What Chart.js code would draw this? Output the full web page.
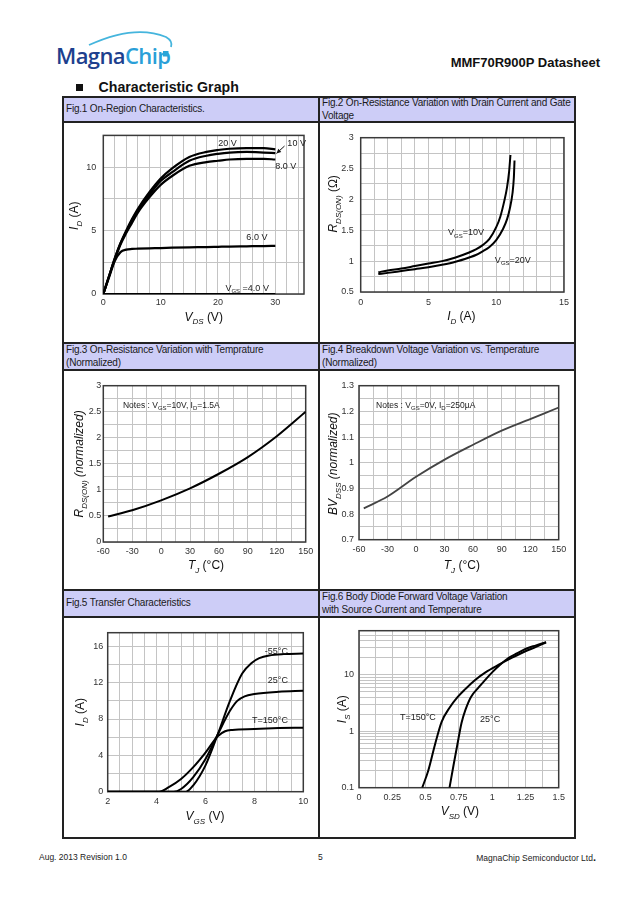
<!DOCTYPE html>
<html>
<head>
<meta charset="utf-8">
<script src="https://cdn.jsdelivr.net/npm/chart.js@4.4.0/dist/chart.umd.min.js"></script>
<style>
  body { margin: 0; background: #fff; font-family: "Liberation Sans", Arial, sans-serif; color: #111; }
  #page { position: relative; width: 638px; height: 902px; overflow: hidden; }
  .abs { position: absolute; }
  .ln { position: absolute; background: #222; }
  .hd { position: absolute; background: #cdcdf7; font-size: 10px; letter-spacing: -0.2px; line-height: 12.5px; display: flex; align-items: center; padding-left: 2px; box-sizing: border-box; color: #1a1a1a; white-space: nowrap; }
  canvas { position: absolute; }
  .foot { position: absolute; top: 851px; font-size: 8.5px; line-height: 12px; color: #222; }
</style>
</head>
<body>
<div id="page">
  <!-- page header -->
  <div class="abs" style="left:56px;top:44px;font:600 22px/22px 'Open Sans';letter-spacing:-0.6px;"><span style="color:#1d3f8e">Magna</span><span style="color:#2a9fd8">Chip</span></div>
  <svg class="abs" style="left:0;top:0" width="200" height="70">
    <path d="M89 45 Q135 24 166 37 Q173 41 171 47" fill="none" stroke="#45b5dd" stroke-width="1.8"/>
    <rect x="163" y="51" width="5.5" height="5.5" fill="#2aa6d8"/>
  </svg>
  <div class="abs" style="right:38px;top:55px;font:bold 13px/15px 'Liberation Sans';">MMF70R900P Datasheet</div>
  <div class="abs" style="left:76px;top:84px;width:7px;height:7px;background:#111"></div>
  <div class="abs" style="left:98.5px;top:79px;font:bold 14.2px/17px 'Liberation Sans';">Characteristic Graph</div>

  <!-- table frame -->
  <div class="ln" style="left:62px;top:96px;width:514px;height:2px"></div>
  <div class="ln" style="left:62px;top:837px;width:514px;height:2px"></div>
  <div class="ln" style="left:62px;top:96px;width:2px;height:743px"></div>
  <div class="ln" style="left:574px;top:96px;width:2px;height:743px"></div>
  <div class="ln" style="left:318px;top:96px;width:2px;height:743px"></div>
  <div class="ln" style="left:62px;top:342px;width:514px;height:2px"></div>
  <div class="ln" style="left:62px;top:589px;width:514px;height:2px"></div>

  <div class="hd" style="left:64px;top:98px;width:254px;height:23px">Fig.1 On-Region Characteristics.</div>
  <div class="hd" style="left:320px;top:98px;width:254px;height:23px">Fig.2 On-Resistance Variation with Drain Current and Gate<br>Voltage</div>
  <div class="hd" style="left:64px;top:344px;width:254px;height:25px">Fig.3 On-Resistance Variation with Temprature<br>(Normalized)</div>
  <div class="hd" style="left:320px;top:344px;width:254px;height:25px">Fig.4 Breakdown Voltage Variation vs. Temperature<br>(Normalized)</div>
  <div class="hd" style="left:64px;top:591px;width:254px;height:25px">Fig.5 Transfer Characteristics</div>
  <div class="hd" style="left:320px;top:591px;width:254px;height:25px">Fig.6 Body Diode Forward Voltage Variation<br>with Source Current and Temperature</div>
  <div class="ln" style="left:62px;top:121px;width:514px;height:2px"></div>
  <div class="ln" style="left:62px;top:369px;width:514px;height:2px"></div>
  <div class="ln" style="left:62px;top:616px;width:514px;height:2px"></div>

  <canvas id="c1" width="254" height="219" style="left:64px;top:123px"></canvas>
  <canvas id="c2" width="254" height="219" style="left:320px;top:123px"></canvas>
  <canvas id="c3" width="254" height="218" style="left:64px;top:371px"></canvas>
  <canvas id="c4" width="254" height="218" style="left:320px;top:371px"></canvas>
  <canvas id="c5" width="254" height="219" style="left:64px;top:618px"></canvas>
  <canvas id="c6" width="254" height="219" style="left:320px;top:618px"></canvas>

  <div class="foot" style="left:39px">Aug. 2013 Revision 1.0</div>
  <div class="foot" style="left:318px">5</div>
  <div class="foot" style="right:42px">MagnaChip Semiconductor Ltd<span style="font-size:11px;font-weight:bold">.</span></div>
</div>

<script>
// ---- data ----
// Fig.1 On-region characteristics: VDS (V) vs ID (A) per VGS
const fig1Vds = [0, 1, 2, 3, 4, 5, 6, 8, 10, 12, 15, 18, 20, 22, 25, 28, 30];
const fig1Vgs20 = [0, 1.4, 2.8, 4.0, 5.0, 5.9, 6.7, 8.0, 9.1, 9.9, 10.8, 11.2, 11.35, 11.45, 11.5, 11.5, 11.4];
const fig1Vgs10 = [0, 1.4, 2.8, 4.0, 4.9, 5.8, 6.6, 7.8, 8.9, 9.6, 10.5, 10.9, 11.05, 11.15, 11.2, 11.15, 11.1];
const fig1Vgs8 = [0, 1.4, 2.7, 3.9, 4.8, 5.6, 6.4, 7.6, 8.6, 9.3, 10.1, 10.4, 10.5, 10.6, 10.65, 10.65, 10.6];
const fig1Vgs6 = [0, 1.3, 2.6, 3.3, 3.5, 3.55, 3.57, 3.6, 3.62, 3.65, 3.68, 3.7, 3.72, 3.74, 3.76, 3.78, 3.8];
const fig1Vgs4 = [0, 0, 0, 0, 0, 0, 0, 0, 0, 0, 0, 0, 0, 0, 0, 0, 0];
const fig1XLabels = [0, 10, 20, 30];
const fig1YLabels = [0, 5, 10];

// Fig.2 RDS(on) vs ID
const fig2IdA = [1.3, 2, 3, 4, 5, 6, 7, 8, 8.5, 9, 9.5, 10, 10.3, 10.6, 10.8, 10.95, 11.05];
const fig2R10 = [0.82, 0.85, 0.88, 0.92, 0.96, 1.0, 1.06, 1.14, 1.19, 1.26, 1.36, 1.55, 1.72, 1.98, 2.2, 2.45, 2.72];
const fig2IdB = [1.3, 2, 3, 4, 5, 6, 7, 8, 8.5, 9, 9.5, 10, 10.5, 10.8, 11.0, 11.2, 11.3, 11.35];
const fig2R20 = [0.79, 0.81, 0.84, 0.87, 0.90, 0.94, 0.99, 1.06, 1.10, 1.16, 1.23, 1.34, 1.52, 1.68, 1.85, 2.1, 2.35, 2.63];
const fig2XLabels = [0, 5, 10, 15];
const fig2YLabels = [0.5, 1, 1.5, 2, 2.5, 3];

// Fig.3 / Fig.4 vs junction temperature
const tempC = [-55, -30, 0, 30, 60, 90, 120, 150];
const fig3Rnorm = [0.49, 0.61, 0.8, 1.03, 1.31, 1.63, 2.03, 2.5];
const fig4BVnorm = [0.822, 0.868, 0.945, 1.012, 1.07, 1.125, 1.17, 1.215];
const tempLabels = [-60, -30, 0, 30, 60, 90, 120, 150];
const fig3YLabels = [0, 0.5, 1, 1.5, 2, 2.5, 3];
const fig4YLabels = [0.7, 0.8, 0.9, 1, 1.1, 1.2, 1.3];

// Fig.5 transfer characteristics
const fig5VgsM55 = [2, 5.2, 5.5, 6.0, 6.5, 7.0, 7.5, 7.9, 8.2, 8.6, 9.2, 10];
const fig5IdM55 = [0, 0, 0.7, 2.9, 6.3, 10.0, 13.0, 14.2, 14.7, 15.0, 15.15, 15.2];
const fig5Vgs25 = [2, 4.7, 5.0, 5.5, 6.0, 6.5, 7.0, 7.3, 7.6, 8.0, 9.0, 10];
const fig5Id25 = [0, 0, 0.3, 1.6, 3.6, 6.3, 8.9, 10.0, 10.5, 10.75, 11.0, 11.1];
const fig5Vgs150 = [2, 4.1, 4.5, 5.0, 5.5, 6.0, 6.5, 6.8, 7.1, 8.0, 9.0, 10];
const fig5Id150 = [0, 0, 0.5, 1.4, 2.7, 4.3, 6.1, 6.65, 6.8, 6.9, 7.0, 7.05];
const fig5XLabels = [2, 4, 6, 8, 10];
const fig5YLabels = [0, 4, 8, 12, 16];

// Fig.6 body diode
const fig6Vsd150 = [0.475, 0.52, 0.57, 0.62, 0.68, 0.74, 0.8, 0.87, 0.95, 1.05, 1.15, 1.25, 1.33, 1.405];
const fig6Is150 = [0.1, 0.2, 0.57, 1.45, 2.6, 4.0, 5.6, 8, 11, 15, 20, 26, 31, 37.5];
const fig6Vsd25 = [0.68, 0.71, 0.74, 0.77, 0.8, 0.84, 0.9, 0.95, 1.0, 1.06, 1.12, 1.19, 1.25, 1.33, 1.405];
const fig6Is25 = [0.1, 0.25, 0.6, 1.4, 2.4, 4, 6, 8.2, 11, 15, 19.5, 24, 28.5, 33, 37.5];
const fig6XLabels = [0, 0.25, 0.5, 0.75, 1, 1.25, 1.5];
const fig6YLabels = [0.1, 1, 10];

// ---- helpers ----
const FONT = '"Liberation Sans", Arial, sans-serif';
Chart.defaults.font.family = FONT;

function pts(xs, ys) { return xs.map((x, i) => ({ x: x, y: ys[i] })); }
function steps(a, b, s) { const out = []; for (let v = a; v <= b + 1e-9; v += s) out.push(+v.toFixed(4)); return out; }
function logGrid(lo, hi) {
  const out = [];
  for (let d = 0.1; d < hi; d *= 10) for (let k = 1; k < 10; k++) { const v = +(k * d).toPrecision(3); if (v >= lo && v <= hi) out.push(v); }
  return out;
}

// rich text: segments as [text, flags]; flags 'i' italic, 's' subscript
function drawRich(ctx, segs, x, y, size, align) {
  const fontOf = s => (s[1].includes('i') ? 'italic ' : '') + (s[1].includes('s') ? Math.round(size * 0.68) : size) + 'px ' + FONT;
  let w = 0;
  segs.forEach(s => { ctx.font = fontOf(s); w += ctx.measureText(s[0]).width; });
  let cx = align === 'center' ? x - w / 2 : align === 'right' ? x - w : x;
  ctx.textAlign = 'left';
  ctx.textBaseline = 'alphabetic';
  segs.forEach(s => {
    ctx.font = fontOf(s);
    ctx.fillText(s[0], cx, y + size * 0.36 + (s[1].includes('s') ? size * 0.28 : 0));
    cx += ctx.measureText(s[0]).width;
  });
}

const decor = {
  id: 'decor',
  beforeDatasetsDraw(chart) {
    const a = chart.chartArea, ctx = chart.ctx;
    ctx.save();
    ctx.strokeStyle = '#3a3a3a';
    ctx.lineWidth = 1.5;
    ctx.strokeRect(a.left, a.top, a.right - a.left, a.bottom - a.top);
    ctx.restore();
  },
  afterDraw(chart, args, o) {
    const a = chart.chartArea, ctx = chart.ctx, xs = chart.scales.x, ys = chart.scales.y;
    ctx.save();
    ctx.fillStyle = '#111';
    drawRich(ctx, o.xTitle[0], (a.left + a.right) / 2 + o.xTitle[1], a.bottom + o.xTitle[2], 12, 'center');
    ctx.save();
    ctx.translate(a.left + o.yTitle[1], (a.top + a.bottom) / 2 + o.yTitle[2]);
    ctx.rotate(-Math.PI / 2);
    drawRich(ctx, o.yTitle[0], 0, 0, 12, 'center');
    ctx.restore();
    ctx.fillStyle = '#222';
    (o.notes || []).forEach(n => drawRich(ctx, n.segs, xs.getPixelForValue(n.x), ys.getPixelForValue(n.y), n.size || 9, n.align || 'left'));
    (o.arrows || []).forEach(ar => {
      const x1 = xs.getPixelForValue(ar[0]), y1 = ys.getPixelForValue(ar[1]);
      const x2 = xs.getPixelForValue(ar[2]), y2 = ys.getPixelForValue(ar[3]);
      const ang = Math.atan2(y2 - y1, x2 - x1);
      ctx.strokeStyle = '#111'; ctx.lineWidth = 1;
      ctx.beginPath(); ctx.moveTo(x1, y1); ctx.lineTo(x2, y2); ctx.stroke();
      ctx.fillStyle = '#111';
      ctx.beginPath();
      ctx.moveTo(x2, y2);
      ctx.lineTo(x2 - 5 * Math.cos(ang - 0.45), y2 - 5 * Math.sin(ang - 0.45));
      ctx.lineTo(x2 - 5 * Math.cos(ang + 0.45), y2 - 5 * Math.sin(ang + 0.45));
      ctx.closePath(); ctx.fill();
    });
    ctx.restore();
  }
};

function axis(type, min, max, grid, labels, pad, fit, isX, extra) {
  return Object.assign({
    type: type, min: min, max: max,
    afterBuildTicks: s => { s.ticks = grid.map(v => ({ value: v })); },
    afterFit: s => { if (isX) s.height = fit; else s.width = fit; },
    ticks: {
      autoSkip: false, maxRotation: 0, minRotation: 0, padding: pad, color: '#333', font: { size: 9 },
      callback: v => { const l = labels.find(l => Math.abs(l - v) < 1e-6); return l === undefined ? '' : String(l); }
    },
    grid: { color: '#c4c4c4', lineWidth: 1, drawTicks: false },
    border: { display: false }
  }, extra || {});
}

function line(data, color, width) {
  return { data: data, borderColor: color || '#000', borderWidth: width || 2, pointRadius: 0, showLine: true, fill: false, cubicInterpolationMode: 'monotone' };
}

// area = [left, right, top, bottom] of the plot inside its canvas
function makeChart(id, area, datasets, xAxis, yAxis, deco) {
  const cv = document.getElementById(id);
  return new Chart(cv, {
    type: 'scatter',
    data: { datasets: datasets },
    options: {
      responsive: false, animation: false, devicePixelRatio: 1, events: [],
      layout: { padding: { left: 0, top: area[2], right: cv.width - area[1], bottom: 0 } },
      scales: { x: xAxis(cv.height - area[3]), y: yAxis(area[0]) },
      plugins: { legend: { display: false }, tooltip: { enabled: false }, decor: deco }
    },
    plugins: [decor]
  });
}

const V = (sub, rest) => [['V', 'i'], [sub, 'is'], [rest, '']];

// Fig.1
makeChart('c1', [39.3, 240, 11, 171], [
  line(pts(fig1Vds, fig1Vgs20), '#000', 2.2),
  line(pts(fig1Vds, fig1Vgs10), '#000', 2.2),
  line(pts(fig1Vds, fig1Vgs8), '#000', 2.2),
  line(pts(fig1Vds, fig1Vgs6), '#000', 2.2),
  line(pts(fig1Vds, fig1Vgs4), '#000', 2.2)
],
  h => axis('linear', 0, 35, steps(0, 34, 2), fig1XLabels, 3, h, true),
  w => axis('linear', 0, 12.5, steps(0, 12.5, 2.5), fig1YLabels, 7, w, false),
  {
    xTitle: [V('DS', ' (V)'), 0, 22.7],
    yTitle: [[['I', 'i'], ['D', 'is'], [' (A)', '']], -29.3, 1],
    notes: [
      { x: 20.05, y: 11.95, segs: [['20 V', '']] },
      { x: 32.1, y: 11.94, segs: [['10 V', '']] },
      { x: 30.0, y: 10.13, segs: [['8.0 V', '']] },
      { x: 24.95, y: 4.55, segs: [['6.0 V', '']] },
      { x: 21.3, y: 0.5, segs: [['V', ''], ['GS', 's'], [' =4.0 V', '']] }
    ],
    arrows: [[31.6, 11.66, 30.2, 11.08]]
  });

// Fig.2
makeChart('c2', [40.7, 244, 14.7, 169], [
  line(pts(fig2IdA, fig2R10)),
  line(pts(fig2IdB, fig2R20))
],
  h => axis('linear', 0, 15, steps(0, 15, 1), fig2XLabels, 5, h, true),
  w => axis('linear', 0.5, 3, steps(0.5, 3, 0.25), fig2YLabels, 7, w, false),
  {
    xTitle: [[['I', 'i'], ['D', 'is'], [' (A)', '']], -1, 24],
    yTitle: [[['R', 'i'], ['DS(ON)', 'is'], [' (Ω)', '']], -27.7, -11],
    notes: [
      { x: 6.44, y: 1.47, segs: [['V', ''], ['GS', 's'], ['=10V', '']] },
      { x: 9.9, y: 1.03, segs: [['V', ''], ['GS', 's'], ['=20V', '']] }
    ]
  });

// Fig.3
makeChart('c3', [39.3, 241.7, 14.7, 171], [
  line(pts(tempC, fig3Rnorm))
],
  h => axis('linear', -60, 150, steps(-60, 150, 15), tempLabels, 4, h, true),
  w => axis('linear', 0, 3, steps(0, 3, 0.25), fig3YLabels, 2, w, false, {}),
  {
    xTitle: [[['T', 'i'], ['J', 'is'], [' (°C)', '']], 1.5, 23],
    yTitle: [[['R', 'i'], ['DS(ON)', 'is'], [' (normalized)', 'i']], -24.3, 0],
    notes: [
      { x: -39.6, y: 2.63, size: 8.5, segs: [['Notes : V', ''], ['GS', 's'], ['=10V, I', ''], ['D', 's'], ['=1.5A', '']] }
    ]
  });

// Fig.4
makeChart('c4', [39, 238.7, 14.7, 168.7], [
  line(pts(tempC, fig4BVnorm), '#444', 1.8)
],
  h => axis('linear', -60, 150, steps(-60, 150, 15), tempLabels, 4, h, true),
  w => axis('linear', 0.7, 1.3, steps(0.7, 1.3, 0.05), fig4YLabels, 5, w, false),
  {
    xTitle: [[['T', 'i'], ['J', 'is'], [' (°C)', '']], 3, 25.3],
    yTitle: [[['BV', 'i'], ['DSS', 'is'], [' (normalized)', 'i']], -26, 1],
    notes: [
      { x: -42.1, y: 1.225, size: 8.5, segs: [['Notes : V', ''], ['GS', 's'], ['=0V, I', ''], ['D', 's'], ['=250µA', '']] }
    ]
  });

// Fig.5
makeChart('c5', [43.7, 239.3, 14.7, 173.7], [
  line(pts(fig5VgsM55, fig5IdM55)),
  line(pts(fig5Vgs25, fig5Id25)),
  line(pts(fig5Vgs150, fig5Id150))
],
  h => axis('linear', 2, 10, steps(2, 10, 0.5), fig5XLabels, 4, h, true),
  w => axis('linear', 0, 17.5, steps(0, 16, 2), fig5YLabels, 4.5, w, false),
  {
    xTitle: [V('GS', ' (V)'), -0.5, 24.3],
    yTitle: [[['I', 'i'], ['D', 'is'], [' (A)', '']], -27.7, 0],
    notes: [
      { x: 9.37, y: 15.5, align: 'right', segs: [['-55°C', '']] },
      { x: 9.37, y: 12.3, align: 'right', segs: [['25°C', '']] },
      { x: 9.37, y: 7.9, align: 'right', segs: [['T=150°C', '']] }
    ]
  });

// Fig.6
makeChart('c6', [39, 238.7, 12.7, 169.7], [
  line(pts(fig6Vsd150, fig6Is150)),
  line(pts(fig6Vsd25, fig6Is25))
],
  h => axis('linear', 0, 1.5, steps(0, 1.5, 0.125), fig6XLabels, 4, h, true),
  w => axis('logarithmic', 0.1, 60, logGrid(0.1, 60), fig6YLabels, 5, w, false),
  {
    xTitle: [V('SD', ' (V)'), 1, 23.3],
    yTitle: [[['I', 'i'], ['S', 'is'], [' (A)', '']], -17, 0],
    notes: [
      { x: 0.308, y: 1.77, segs: [['T=150°C', '']] },
      { x: 0.909, y: 1.69, segs: [['25°C', '']] }
    ]
  });
</script>
</body>
</html>
